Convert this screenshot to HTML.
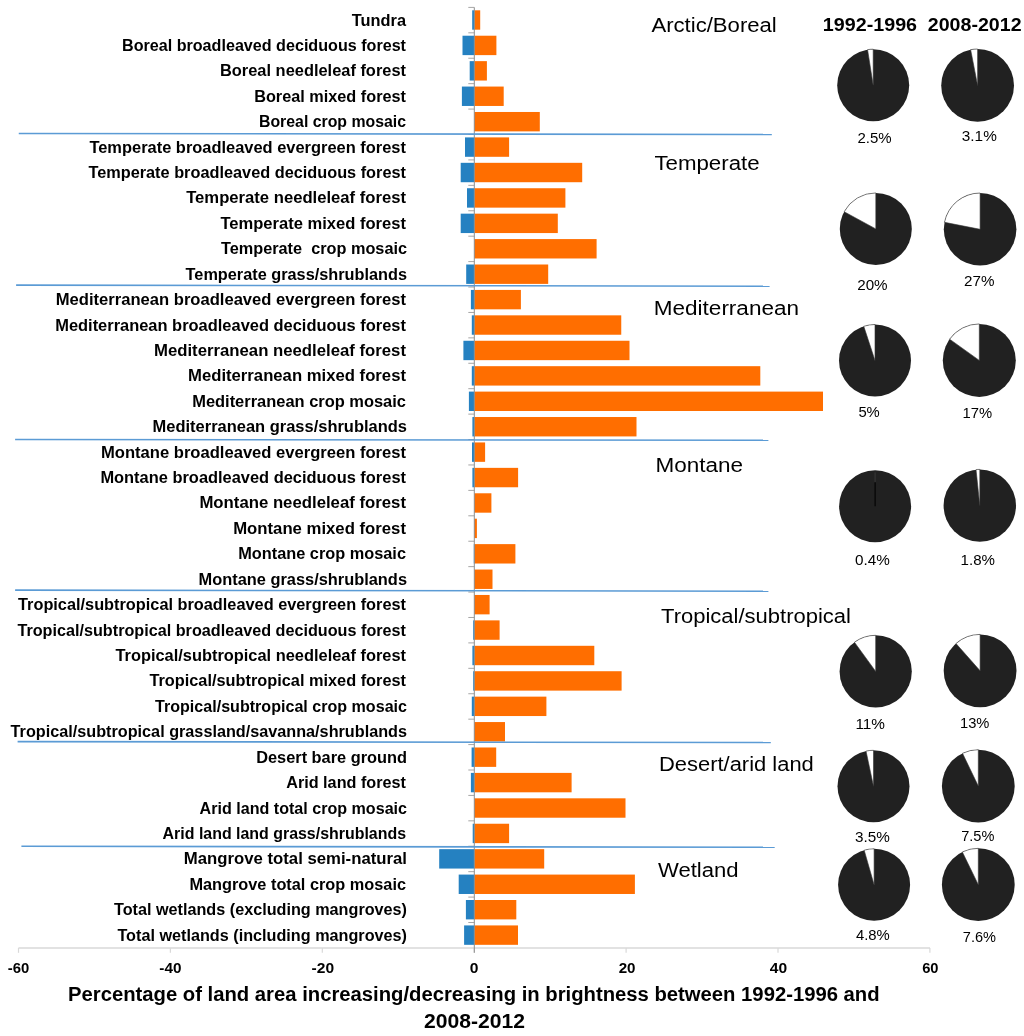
<!DOCTYPE html><html><head><meta charset="utf-8"><style>html,body{margin:0;padding:0;background:#fff;}svg{display:block;will-change:transform;}text{font-family:"Liberation Sans",sans-serif;fill:#000;}</style></head><body>
<svg width="1024" height="1036" viewBox="0 0 1024 1036">
<rect x="474.30" y="10.30" width="5.90" height="19.4" fill="#ff6e00"/>
<rect x="472.20" y="10.30" width="2.10" height="19.4" fill="#2581c1"/>
<rect x="474.30" y="35.72" width="22.10" height="19.4" fill="#ff6e00"/>
<rect x="462.50" y="35.72" width="11.80" height="19.4" fill="#2581c1"/>
<rect x="474.30" y="61.14" width="12.60" height="19.4" fill="#ff6e00"/>
<rect x="469.70" y="61.14" width="4.60" height="19.4" fill="#2581c1"/>
<rect x="474.30" y="86.56" width="29.40" height="19.4" fill="#ff6e00"/>
<rect x="461.90" y="86.56" width="12.40" height="19.4" fill="#2581c1"/>
<rect x="474.30" y="111.98" width="65.50" height="19.4" fill="#ff6e00"/>
<rect x="474.30" y="137.40" width="34.80" height="19.4" fill="#ff6e00"/>
<rect x="465.00" y="137.40" width="9.30" height="19.4" fill="#2581c1"/>
<rect x="474.30" y="162.82" width="107.90" height="19.4" fill="#ff6e00"/>
<rect x="460.70" y="162.82" width="13.60" height="19.4" fill="#2581c1"/>
<rect x="474.30" y="188.24" width="91.10" height="19.4" fill="#ff6e00"/>
<rect x="467.00" y="188.24" width="7.30" height="19.4" fill="#2581c1"/>
<rect x="474.30" y="213.66" width="83.50" height="19.4" fill="#ff6e00"/>
<rect x="460.70" y="213.66" width="13.60" height="19.4" fill="#2581c1"/>
<rect x="474.30" y="239.08" width="122.30" height="19.4" fill="#ff6e00"/>
<rect x="474.30" y="264.50" width="73.90" height="19.4" fill="#ff6e00"/>
<rect x="466.20" y="264.50" width="8.10" height="19.4" fill="#2581c1"/>
<rect x="474.30" y="289.92" width="46.60" height="19.4" fill="#ff6e00"/>
<rect x="470.90" y="289.92" width="3.40" height="19.4" fill="#2581c1"/>
<rect x="474.30" y="315.34" width="146.95" height="19.4" fill="#ff6e00"/>
<rect x="471.80" y="315.34" width="2.50" height="19.4" fill="#2581c1"/>
<rect x="474.30" y="340.76" width="155.20" height="19.4" fill="#ff6e00"/>
<rect x="463.40" y="340.76" width="10.90" height="19.4" fill="#2581c1"/>
<rect x="474.30" y="366.18" width="286.00" height="19.4" fill="#ff6e00"/>
<rect x="471.80" y="366.18" width="2.50" height="19.4" fill="#2581c1"/>
<rect x="474.30" y="391.60" width="348.70" height="19.4" fill="#ff6e00"/>
<rect x="468.90" y="391.60" width="5.40" height="19.4" fill="#2581c1"/>
<rect x="474.30" y="417.02" width="162.20" height="19.4" fill="#ff6e00"/>
<rect x="472.40" y="417.02" width="1.90" height="19.4" fill="#2581c1"/>
<rect x="474.30" y="442.44" width="10.80" height="19.4" fill="#ff6e00"/>
<rect x="472.00" y="442.44" width="2.30" height="19.4" fill="#2581c1"/>
<rect x="474.30" y="467.86" width="43.80" height="19.4" fill="#ff6e00"/>
<rect x="472.40" y="467.86" width="1.90" height="19.4" fill="#2581c1"/>
<rect x="474.30" y="493.28" width="17.10" height="19.4" fill="#ff6e00"/>
<rect x="474.30" y="518.70" width="2.60" height="19.4" fill="#ff6e00"/>
<rect x="474.30" y="544.12" width="41.10" height="19.4" fill="#ff6e00"/>
<rect x="473.80" y="544.12" width="0.50" height="19.4" fill="#2581c1"/>
<rect x="474.30" y="569.54" width="18.20" height="19.4" fill="#ff6e00"/>
<rect x="474.30" y="594.96" width="15.30" height="19.4" fill="#ff6e00"/>
<rect x="474.30" y="620.38" width="25.30" height="19.4" fill="#ff6e00"/>
<rect x="473.20" y="620.38" width="1.10" height="19.4" fill="#2581c1"/>
<rect x="474.30" y="645.80" width="120.00" height="19.4" fill="#ff6e00"/>
<rect x="472.40" y="645.80" width="1.90" height="19.4" fill="#2581c1"/>
<rect x="474.30" y="671.22" width="147.30" height="19.4" fill="#ff6e00"/>
<rect x="473.20" y="671.22" width="1.10" height="19.4" fill="#2581c1"/>
<rect x="474.30" y="696.64" width="72.10" height="19.4" fill="#ff6e00"/>
<rect x="471.80" y="696.64" width="2.50" height="19.4" fill="#2581c1"/>
<rect x="474.30" y="722.06" width="30.70" height="19.4" fill="#ff6e00"/>
<rect x="474.30" y="747.48" width="21.90" height="19.4" fill="#ff6e00"/>
<rect x="471.60" y="747.48" width="2.70" height="19.4" fill="#2581c1"/>
<rect x="474.30" y="772.90" width="97.30" height="19.4" fill="#ff6e00"/>
<rect x="470.90" y="772.90" width="3.40" height="19.4" fill="#2581c1"/>
<rect x="474.30" y="798.32" width="151.20" height="19.4" fill="#ff6e00"/>
<rect x="474.30" y="823.74" width="34.80" height="19.4" fill="#ff6e00"/>
<rect x="472.70" y="823.74" width="1.60" height="19.4" fill="#2581c1"/>
<rect x="474.30" y="849.16" width="69.90" height="19.4" fill="#ff6e00"/>
<rect x="439.20" y="849.16" width="35.10" height="19.4" fill="#2581c1"/>
<rect x="474.30" y="874.58" width="160.60" height="19.4" fill="#ff6e00"/>
<rect x="458.70" y="874.58" width="15.60" height="19.4" fill="#2581c1"/>
<rect x="474.30" y="900.00" width="42.00" height="19.4" fill="#ff6e00"/>
<rect x="465.90" y="900.00" width="8.40" height="19.4" fill="#2581c1"/>
<rect x="474.30" y="925.42" width="43.70" height="19.4" fill="#ff6e00"/>
<rect x="464.10" y="925.42" width="10.20" height="19.4" fill="#2581c1"/>
<line x1="18.5" y1="947.9" x2="930" y2="947.9" stroke="#d9d9d9" stroke-width="1.5"/>
<line x1="18.50" y1="947.9" x2="18.50" y2="952.8" stroke="#d9d9d9" stroke-width="1.2"/>
<line x1="170.40" y1="947.9" x2="170.40" y2="952.8" stroke="#d9d9d9" stroke-width="1.2"/>
<line x1="322.30" y1="947.9" x2="322.30" y2="952.8" stroke="#d9d9d9" stroke-width="1.2"/>
<line x1="474.20" y1="947.9" x2="474.20" y2="952.8" stroke="#d9d9d9" stroke-width="1.2"/>
<line x1="626.10" y1="947.9" x2="626.10" y2="952.8" stroke="#d9d9d9" stroke-width="1.2"/>
<line x1="778.00" y1="947.9" x2="778.00" y2="952.8" stroke="#d9d9d9" stroke-width="1.2"/>
<line x1="929.90" y1="947.9" x2="929.90" y2="952.8" stroke="#d9d9d9" stroke-width="1.2"/>
<line x1="468.3" y1="7.40" x2="474.30" y2="7.40" stroke="#a6a6a6" stroke-width="1"/>
<line x1="468.3" y1="32.82" x2="474.30" y2="32.82" stroke="#a6a6a6" stroke-width="1"/>
<line x1="468.3" y1="58.24" x2="474.30" y2="58.24" stroke="#a6a6a6" stroke-width="1"/>
<line x1="468.3" y1="83.66" x2="474.30" y2="83.66" stroke="#a6a6a6" stroke-width="1"/>
<line x1="468.3" y1="109.08" x2="474.30" y2="109.08" stroke="#a6a6a6" stroke-width="1"/>
<line x1="468.3" y1="134.50" x2="474.30" y2="134.50" stroke="#a6a6a6" stroke-width="1"/>
<line x1="468.3" y1="159.92" x2="474.30" y2="159.92" stroke="#a6a6a6" stroke-width="1"/>
<line x1="468.3" y1="185.34" x2="474.30" y2="185.34" stroke="#a6a6a6" stroke-width="1"/>
<line x1="468.3" y1="210.76" x2="474.30" y2="210.76" stroke="#a6a6a6" stroke-width="1"/>
<line x1="468.3" y1="236.18" x2="474.30" y2="236.18" stroke="#a6a6a6" stroke-width="1"/>
<line x1="468.3" y1="261.60" x2="474.30" y2="261.60" stroke="#a6a6a6" stroke-width="1"/>
<line x1="468.3" y1="287.02" x2="474.30" y2="287.02" stroke="#a6a6a6" stroke-width="1"/>
<line x1="468.3" y1="312.44" x2="474.30" y2="312.44" stroke="#a6a6a6" stroke-width="1"/>
<line x1="468.3" y1="337.86" x2="474.30" y2="337.86" stroke="#a6a6a6" stroke-width="1"/>
<line x1="468.3" y1="363.28" x2="474.30" y2="363.28" stroke="#a6a6a6" stroke-width="1"/>
<line x1="468.3" y1="388.70" x2="474.30" y2="388.70" stroke="#a6a6a6" stroke-width="1"/>
<line x1="468.3" y1="414.12" x2="474.30" y2="414.12" stroke="#a6a6a6" stroke-width="1"/>
<line x1="468.3" y1="439.54" x2="474.30" y2="439.54" stroke="#a6a6a6" stroke-width="1"/>
<line x1="468.3" y1="464.96" x2="474.30" y2="464.96" stroke="#a6a6a6" stroke-width="1"/>
<line x1="468.3" y1="490.38" x2="474.30" y2="490.38" stroke="#a6a6a6" stroke-width="1"/>
<line x1="468.3" y1="515.80" x2="474.30" y2="515.80" stroke="#a6a6a6" stroke-width="1"/>
<line x1="468.3" y1="541.22" x2="474.30" y2="541.22" stroke="#a6a6a6" stroke-width="1"/>
<line x1="468.3" y1="566.64" x2="474.30" y2="566.64" stroke="#a6a6a6" stroke-width="1"/>
<line x1="468.3" y1="592.06" x2="474.30" y2="592.06" stroke="#a6a6a6" stroke-width="1"/>
<line x1="468.3" y1="617.48" x2="474.30" y2="617.48" stroke="#a6a6a6" stroke-width="1"/>
<line x1="468.3" y1="642.90" x2="474.30" y2="642.90" stroke="#a6a6a6" stroke-width="1"/>
<line x1="468.3" y1="668.32" x2="474.30" y2="668.32" stroke="#a6a6a6" stroke-width="1"/>
<line x1="468.3" y1="693.74" x2="474.30" y2="693.74" stroke="#a6a6a6" stroke-width="1"/>
<line x1="468.3" y1="719.16" x2="474.30" y2="719.16" stroke="#a6a6a6" stroke-width="1"/>
<line x1="468.3" y1="744.58" x2="474.30" y2="744.58" stroke="#a6a6a6" stroke-width="1"/>
<line x1="468.3" y1="770.00" x2="474.30" y2="770.00" stroke="#a6a6a6" stroke-width="1"/>
<line x1="468.3" y1="795.42" x2="474.30" y2="795.42" stroke="#a6a6a6" stroke-width="1"/>
<line x1="468.3" y1="820.84" x2="474.30" y2="820.84" stroke="#a6a6a6" stroke-width="1"/>
<line x1="468.3" y1="846.26" x2="474.30" y2="846.26" stroke="#a6a6a6" stroke-width="1"/>
<line x1="468.3" y1="871.68" x2="474.30" y2="871.68" stroke="#a6a6a6" stroke-width="1"/>
<line x1="468.3" y1="897.10" x2="474.30" y2="897.10" stroke="#a6a6a6" stroke-width="1"/>
<line x1="468.3" y1="922.52" x2="474.30" y2="922.52" stroke="#a6a6a6" stroke-width="1"/>
<line x1="474.30" y1="7.40" x2="474.30" y2="952.8" stroke="#8c8c8c" stroke-width="1"/>
<line x1="18.75" y1="133.5" x2="771.8" y2="134.5" stroke="#5b9bd5" stroke-width="1.6"/>
<line x1="16.1" y1="285.1" x2="769.6" y2="286.2" stroke="#5b9bd5" stroke-width="1.6"/>
<line x1="15.1" y1="439.5" x2="768.4" y2="440.3" stroke="#5b9bd5" stroke-width="1.6"/>
<line x1="15.1" y1="590.1" x2="768.4" y2="591.2" stroke="#5b9bd5" stroke-width="1.6"/>
<line x1="17.6" y1="741.6" x2="770.8" y2="742.5" stroke="#5b9bd5" stroke-width="1.6"/>
<line x1="21.4" y1="846.3" x2="774.7" y2="847.2" stroke="#5b9bd5" stroke-width="1.6"/>
<circle cx="873.2" cy="85.2" r="36.0" fill="#212121"/>
<path d="M873.2,85.2 L873.2,49.2 A36.0,36.0 0 0 0 867.57,49.64 Z" fill="#fff" stroke="#333" stroke-width="0.6"/>
<circle cx="977.6" cy="85.4" r="36.4" fill="#212121"/>
<path d="M977.6,85.4 L977.6,49.00000000000001 A36.4,36.4 0 0 0 970.65,49.67 Z" fill="#fff" stroke="#333" stroke-width="0.6"/>
<circle cx="875.8" cy="228.9" r="36.0" fill="#212121"/>
<path d="M875.8,228.9 L875.8,192.9 A36.0,36.0 0 0 0 844.16,211.72 Z" fill="#fff" stroke="#333" stroke-width="0.6"/>
<circle cx="980.1" cy="229.3" r="36.3" fill="#212121"/>
<path d="M980.1,229.3 L980.1,193.0 A36.3,36.3 0 0 0 944.48,222.31 Z" fill="#fff" stroke="#333" stroke-width="0.6"/>
<circle cx="875.0" cy="360.5" r="36.0" fill="#212121"/>
<path d="M875.0,360.5 L875.0,324.5 A36.0,36.0 0 0 0 863.76,326.30 Z" fill="#fff" stroke="#333" stroke-width="0.6"/>
<circle cx="979.3" cy="360.4" r="36.5" fill="#212121"/>
<path d="M979.3,360.4 L979.3,323.9 A36.5,36.5 0 0 0 949.62,339.15 Z" fill="#fff" stroke="#333" stroke-width="0.6"/>
<circle cx="875.1" cy="506.3" r="36.0" fill="#212121"/>
<line x1="875.1" y1="472.3" x2="875.1" y2="482.3" stroke="#3a3a3a" stroke-width="0.9"/>
<line x1="875.1" y1="482.3" x2="875.1" y2="506.3" stroke="#000" stroke-width="1.1"/>
<circle cx="979.8" cy="505.6" r="36.2" fill="#212121"/>
<path d="M979.8,505.6 L979.8,469.40000000000003 A36.2,36.2 0 0 0 976.02,469.60 Z" fill="#fff" stroke="#333" stroke-width="0.6"/>
<circle cx="875.7" cy="671.4" r="36.1" fill="#212121"/>
<path d="M875.7,671.4 L875.7,635.3 A36.1,36.1 0 0 0 854.43,642.23 Z" fill="#fff" stroke="#333" stroke-width="0.6"/>
<circle cx="980.1" cy="670.8" r="36.4" fill="#212121"/>
<path d="M980.1,670.8 L980.1,634.4 A36.4,36.4 0 0 0 955.98,643.54 Z" fill="#fff" stroke="#333" stroke-width="0.6"/>
<circle cx="873.5" cy="786.3" r="36.0" fill="#212121"/>
<path d="M873.5,786.3 L873.5,750.3 A36.0,36.0 0 0 0 866.02,751.09 Z" fill="#fff" stroke="#333" stroke-width="0.6"/>
<circle cx="978.3" cy="786.1" r="36.4" fill="#212121"/>
<path d="M978.3,786.1 L978.3,749.7 A36.4,36.4 0 0 0 962.51,753.30 Z" fill="#fff" stroke="#333" stroke-width="0.6"/>
<circle cx="874.1" cy="884.8" r="36.0" fill="#212121"/>
<path d="M874.1,884.8 L874.1,848.8 A36.0,36.0 0 0 0 864.18,850.19 Z" fill="#fff" stroke="#333" stroke-width="0.6"/>
<circle cx="978.3" cy="884.7" r="36.4" fill="#212121"/>
<path d="M978.3,884.7 L978.3,848.3000000000001 A36.4,36.4 0 0 0 962.34,851.98 Z" fill="#fff" stroke="#333" stroke-width="0.6"/>
<text x="351.80" y="25.51" font-size="15.8" font-weight="bold" textLength="54.20" lengthAdjust="spacingAndGlyphs" xml:space="preserve">Tundra</text>
<text x="122.00" y="50.93" font-size="15.8" font-weight="bold" textLength="284.00" lengthAdjust="spacingAndGlyphs" xml:space="preserve">Boreal broadleaved deciduous forest</text>
<text x="220.00" y="76.35" font-size="15.8" font-weight="bold" textLength="186.00" lengthAdjust="spacingAndGlyphs" xml:space="preserve">Boreal needleleaf forest</text>
<text x="254.20" y="101.77" font-size="15.8" font-weight="bold" textLength="151.80" lengthAdjust="spacingAndGlyphs" xml:space="preserve">Boreal mixed forest</text>
<text x="259.00" y="127.19" font-size="15.8" font-weight="bold" textLength="147.00" lengthAdjust="spacingAndGlyphs" xml:space="preserve">Boreal crop mosaic</text>
<text x="89.40" y="152.61" font-size="15.8" font-weight="bold" textLength="316.60" lengthAdjust="spacingAndGlyphs" xml:space="preserve">Temperate broadleaved evergreen forest</text>
<text x="88.40" y="178.03" font-size="15.8" font-weight="bold" textLength="317.60" lengthAdjust="spacingAndGlyphs" xml:space="preserve">Temperate broadleaved deciduous forest</text>
<text x="186.20" y="203.45" font-size="15.8" font-weight="bold" textLength="219.80" lengthAdjust="spacingAndGlyphs" xml:space="preserve">Temperate needleleaf forest</text>
<text x="220.40" y="228.87" font-size="15.8" font-weight="bold" textLength="185.60" lengthAdjust="spacingAndGlyphs" xml:space="preserve">Temperate mixed forest</text>
<text x="221.00" y="254.29" font-size="15.8" font-weight="bold" textLength="186.00" lengthAdjust="spacingAndGlyphs" xml:space="preserve">Temperate  crop mosaic</text>
<text x="185.60" y="279.71" font-size="15.8" font-weight="bold" textLength="221.40" lengthAdjust="spacingAndGlyphs" xml:space="preserve">Temperate grass/shrublands</text>
<text x="55.80" y="305.13" font-size="15.8" font-weight="bold" textLength="350.20" lengthAdjust="spacingAndGlyphs" xml:space="preserve">Mediterranean broadleaved evergreen forest</text>
<text x="55.20" y="330.55" font-size="15.8" font-weight="bold" textLength="350.80" lengthAdjust="spacingAndGlyphs" xml:space="preserve">Mediterranean broadleaved deciduous forest</text>
<text x="154.00" y="355.97" font-size="15.8" font-weight="bold" textLength="252.00" lengthAdjust="spacingAndGlyphs" xml:space="preserve">Mediterranean needleleaf forest</text>
<text x="188.00" y="381.39" font-size="15.8" font-weight="bold" textLength="218.00" lengthAdjust="spacingAndGlyphs" xml:space="preserve">Mediterranean mixed forest</text>
<text x="192.20" y="406.81" font-size="15.8" font-weight="bold" textLength="213.80" lengthAdjust="spacingAndGlyphs" xml:space="preserve">Mediterranean crop mosaic</text>
<text x="152.60" y="432.23" font-size="15.8" font-weight="bold" textLength="254.40" lengthAdjust="spacingAndGlyphs" xml:space="preserve">Mediterranean grass/shrublands</text>
<text x="101.00" y="457.65" font-size="15.8" font-weight="bold" textLength="305.00" lengthAdjust="spacingAndGlyphs" xml:space="preserve">Montane broadleaved evergreen forest</text>
<text x="100.40" y="483.07" font-size="15.8" font-weight="bold" textLength="305.60" lengthAdjust="spacingAndGlyphs" xml:space="preserve">Montane broadleaved deciduous forest</text>
<text x="199.40" y="508.49" font-size="15.8" font-weight="bold" textLength="206.60" lengthAdjust="spacingAndGlyphs" xml:space="preserve">Montane needleleaf forest</text>
<text x="233.20" y="533.91" font-size="15.8" font-weight="bold" textLength="172.80" lengthAdjust="spacingAndGlyphs" xml:space="preserve">Montane mixed forest</text>
<text x="238.20" y="559.33" font-size="15.8" font-weight="bold" textLength="167.80" lengthAdjust="spacingAndGlyphs" xml:space="preserve">Montane crop mosaic</text>
<text x="198.60" y="584.75" font-size="15.8" font-weight="bold" textLength="208.40" lengthAdjust="spacingAndGlyphs" xml:space="preserve">Montane grass/shrublands</text>
<text x="18.00" y="610.17" font-size="15.8" font-weight="bold" textLength="388.00" lengthAdjust="spacingAndGlyphs" xml:space="preserve">Tropical/subtropical broadleaved evergreen forest</text>
<text x="17.40" y="635.59" font-size="15.8" font-weight="bold" textLength="388.60" lengthAdjust="spacingAndGlyphs" xml:space="preserve">Tropical/subtropical broadleaved deciduous forest</text>
<text x="115.40" y="661.01" font-size="15.8" font-weight="bold" textLength="290.60" lengthAdjust="spacingAndGlyphs" xml:space="preserve">Tropical/subtropical needleleaf forest</text>
<text x="149.40" y="686.43" font-size="15.8" font-weight="bold" textLength="256.60" lengthAdjust="spacingAndGlyphs" xml:space="preserve">Tropical/subtropical mixed forest</text>
<text x="155.00" y="711.85" font-size="15.8" font-weight="bold" textLength="252.00" lengthAdjust="spacingAndGlyphs" xml:space="preserve">Tropical/subtropical crop mosaic</text>
<text x="10.60" y="737.27" font-size="15.8" font-weight="bold" textLength="396.40" lengthAdjust="spacingAndGlyphs" xml:space="preserve">Tropical/subtropical grassland/savanna/shrublands</text>
<text x="256.20" y="762.69" font-size="15.8" font-weight="bold" textLength="150.80" lengthAdjust="spacingAndGlyphs" xml:space="preserve">Desert bare ground</text>
<text x="286.20" y="788.11" font-size="15.8" font-weight="bold" textLength="119.80" lengthAdjust="spacingAndGlyphs" xml:space="preserve">Arid land forest</text>
<text x="199.60" y="813.53" font-size="15.8" font-weight="bold" textLength="207.40" lengthAdjust="spacingAndGlyphs" xml:space="preserve">Arid land total crop mosaic</text>
<text x="162.60" y="838.95" font-size="15.8" font-weight="bold" textLength="243.40" lengthAdjust="spacingAndGlyphs" xml:space="preserve">Arid land land grass/shrublands</text>
<text x="183.80" y="864.37" font-size="15.8" font-weight="bold" textLength="223.20" lengthAdjust="spacingAndGlyphs" xml:space="preserve">Mangrove total semi-natural</text>
<text x="189.40" y="889.79" font-size="15.8" font-weight="bold" textLength="216.60" lengthAdjust="spacingAndGlyphs" xml:space="preserve">Mangrove total crop mosaic</text>
<text x="114.00" y="915.21" font-size="15.8" font-weight="bold" textLength="293.00" lengthAdjust="spacingAndGlyphs" xml:space="preserve">Total wetlands (excluding mangroves)</text>
<text x="117.40" y="940.63" font-size="15.8" font-weight="bold" textLength="289.60" lengthAdjust="spacingAndGlyphs" xml:space="preserve">Total wetlands (including mangroves)</text>
<text x="651.40" y="31.70" font-size="19.6" textLength="125.40" lengthAdjust="spacingAndGlyphs" xml:space="preserve">Arctic/Boreal</text>
<text x="654.40" y="170.20" font-size="19.6" textLength="105.20" lengthAdjust="spacingAndGlyphs" xml:space="preserve">Temperate</text>
<text x="653.80" y="314.70" font-size="19.6" textLength="145.20" lengthAdjust="spacingAndGlyphs" xml:space="preserve">Mediterranean</text>
<text x="655.40" y="472.30" font-size="19.6" textLength="87.60" lengthAdjust="spacingAndGlyphs" xml:space="preserve">Montane</text>
<text x="661.00" y="623.30" font-size="19.6" textLength="190.00" lengthAdjust="spacingAndGlyphs" xml:space="preserve">Tropical/subtropical</text>
<text x="659.00" y="770.80" font-size="19.6" textLength="154.80" lengthAdjust="spacingAndGlyphs" xml:space="preserve">Desert/arid land</text>
<text x="658.00" y="877.30" font-size="19.6" textLength="80.60" lengthAdjust="spacingAndGlyphs" xml:space="preserve">Wetland</text>
<text x="822.84" y="31.00" font-size="18.6" font-weight="bold" textLength="94.24" lengthAdjust="spacingAndGlyphs" xml:space="preserve">1992-1996</text>
<text x="927.81" y="31.00" font-size="18.6" font-weight="bold" textLength="93.76" lengthAdjust="spacingAndGlyphs" xml:space="preserve">2008-2012</text>
<text x="857.40" y="143.30" font-size="14.8" textLength="34.20" lengthAdjust="spacingAndGlyphs" xml:space="preserve">2.5%</text>
<text x="961.80" y="141.10" font-size="14.8" textLength="35.00" lengthAdjust="spacingAndGlyphs" xml:space="preserve">3.1%</text>
<text x="857.20" y="289.50" font-size="14.8" textLength="30.40" lengthAdjust="spacingAndGlyphs" xml:space="preserve">20%</text>
<text x="964.00" y="286.40" font-size="14.8" textLength="30.40" lengthAdjust="spacingAndGlyphs" xml:space="preserve">27%</text>
<text x="858.40" y="417.10" font-size="14.8" textLength="21.40" lengthAdjust="spacingAndGlyphs" xml:space="preserve">5%</text>
<text x="962.60" y="418.20" font-size="14.8" textLength="29.60" lengthAdjust="spacingAndGlyphs" xml:space="preserve">17%</text>
<text x="855.00" y="565.10" font-size="14.8" textLength="34.80" lengthAdjust="spacingAndGlyphs" xml:space="preserve">0.4%</text>
<text x="960.60" y="565.30" font-size="14.8" textLength="34.40" lengthAdjust="spacingAndGlyphs" xml:space="preserve">1.8%</text>
<text x="855.40" y="728.50" font-size="14.8" textLength="29.60" lengthAdjust="spacingAndGlyphs" xml:space="preserve">11%</text>
<text x="960.00" y="727.70" font-size="14.8" textLength="29.40" lengthAdjust="spacingAndGlyphs" xml:space="preserve">13%</text>
<text x="855.00" y="842.20" font-size="14.8" textLength="34.80" lengthAdjust="spacingAndGlyphs" xml:space="preserve">3.5%</text>
<text x="961.20" y="841.10" font-size="14.8" textLength="33.20" lengthAdjust="spacingAndGlyphs" xml:space="preserve">7.5%</text>
<text x="856.00" y="940.10" font-size="14.8" textLength="33.80" lengthAdjust="spacingAndGlyphs" xml:space="preserve">4.8%</text>
<text x="962.80" y="941.50" font-size="14.8" textLength="33.20" lengthAdjust="spacingAndGlyphs" xml:space="preserve">7.6%</text>
<text x="7.80" y="972.60" font-size="14.4" font-weight="bold" textLength="21.50" lengthAdjust="spacingAndGlyphs" xml:space="preserve">-60</text>
<text x="159.30" y="972.60" font-size="14.4" font-weight="bold" textLength="22.13" lengthAdjust="spacingAndGlyphs" xml:space="preserve">-40</text>
<text x="311.64" y="972.60" font-size="14.4" font-weight="bold" textLength="22.55" lengthAdjust="spacingAndGlyphs" xml:space="preserve">-20</text>
<text x="469.81" y="972.60" font-size="14.4" font-weight="bold" textLength="8.70" lengthAdjust="spacingAndGlyphs" xml:space="preserve">0</text>
<text x="618.66" y="972.60" font-size="14.4" font-weight="bold" textLength="16.87" lengthAdjust="spacingAndGlyphs" xml:space="preserve">20</text>
<text x="769.83" y="972.60" font-size="14.4" font-weight="bold" textLength="17.36" lengthAdjust="spacingAndGlyphs" xml:space="preserve">40</text>
<text x="922.15" y="972.60" font-size="14.4" font-weight="bold" textLength="16.38" lengthAdjust="spacingAndGlyphs" xml:space="preserve">60</text>
<text x="68.00" y="1001.40" font-size="19.6" font-weight="bold" textLength="811.60" lengthAdjust="spacingAndGlyphs" xml:space="preserve">Percentage of land area increasing/decreasing in brightness between 1992-1996 and</text>
<text x="424.00" y="1027.50" font-size="19.6" font-weight="bold" textLength="101.00" lengthAdjust="spacingAndGlyphs" xml:space="preserve">2008-2012</text>
</svg></body></html>
